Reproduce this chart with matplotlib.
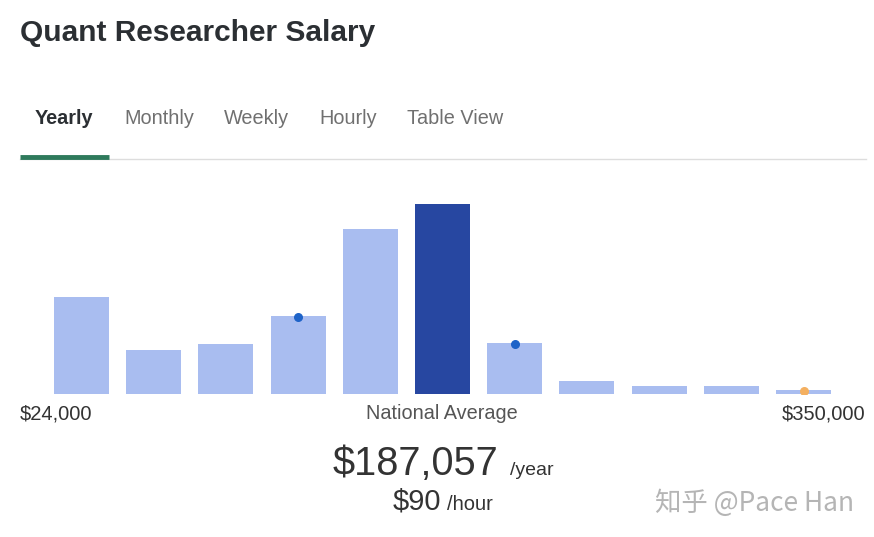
import matplotlib.pyplot as plt
from matplotlib.lines import Line2D

plt.rcParams['font.family'] = ['Liberation Sans', 'DejaVu Sans']

W, H = 874, 537

# bar heights (relative units)
heights = [97, 44, 50, 78, 165, 190, 51, 13, 8, 8, 4]
highlight = 5          # National Average bin
marker_bins = [3, 6]   # blue dots
marker_vals = [77, 50]
orange_bin = 10
orange_val = 3

tabs = ["Yearly", "Monthly", "Weekly", "Hourly", "Table View"]
tab_x = [35, 124, 224, 319, 407]

light = '#a9bdf0'
dark = '#2747a1'

fig = plt.figure(figsize=(W / 100, H / 100), dpi=100)
fig.patch.set_facecolor('white')

def fx(x):
    return x / W

def fy(y):
    return 1 - y / H

# bars
ax = fig.add_axes([fx(45.4), fy(394), (839.6 - 45.4) / W, 200 / H])
x = list(range(len(heights)))
colors = [dark if i == highlight else light for i in x]
ax.bar(x, heights, width=0.76, color=colors)
ax.scatter(marker_bins, marker_vals, s=30, color='#1e63c8', zorder=3)
ax.scatter([orange_bin], [orange_val], s=30, color='#f4b060', zorder=3)
ax.set_xlim(-0.5, len(heights) - 0.5)
ax.set_ylim(0, 200)
ax.axis('off')

# title
fig.text(fx(20), fy(41), "Quant Researcher Salary", fontsize=21.5, fontweight='bold',
         color='#2b2f33', va='baseline', ha='left')

# tabs
for i, (t, tx) in enumerate(zip(tabs, tab_x)):
    fig.text(fx(tx), fy(124), t, fontsize=14.3, va='baseline', ha='left',
             fontweight='bold' if i == 0 else 'normal',
             color='#2b2f33' if i == 0 else '#707070')

fig.add_artist(Line2D([fx(20), fx(866)], [fy(159), fy(159)], color='#dddddd', lw=1))
fig.add_artist(Line2D([fx(20), fx(109)], [fy(156.5), fy(156.5)], color='#2e7a5c', lw=3.5,
                      solid_capstyle='butt'))

# axis labels
fig.text(fx(20), fy(419), "$24,000", fontsize=14.5, color='#333333', va='baseline', ha='left')
fig.text(fx(442), fy(419), "National Average", fontsize=14.3, color='#555555', va='baseline', ha='center')
fig.text(fx(865), fy(419), "$350,000", fontsize=14.5, color='#333333', va='baseline', ha='right')

# summary
fig.text(fx(333), fy(475), "$187,057", fontsize=28.6, color='#333333', va='baseline', ha='left')
fig.text(fx(510), fy(475), "/year", fontsize=14, color='#333333', va='baseline', ha='left')
fig.text(fx(393), fy(510), "$90", fontsize=21, color='#333333', va='baseline', ha='left')
fig.text(fx(447), fy(510), "/hour", fontsize=14.5, color='#333333', va='baseline', ha='left')

# watermark
fig.text(fx(655), fy(503), "知乎 @Pace Han", fontsize=19, color='#b5b5b5', va='center', ha='left',
         family=['Noto Sans CJK SC', 'DejaVu Sans'])

fig.savefig('out.png', dpi=100, facecolor='white')
